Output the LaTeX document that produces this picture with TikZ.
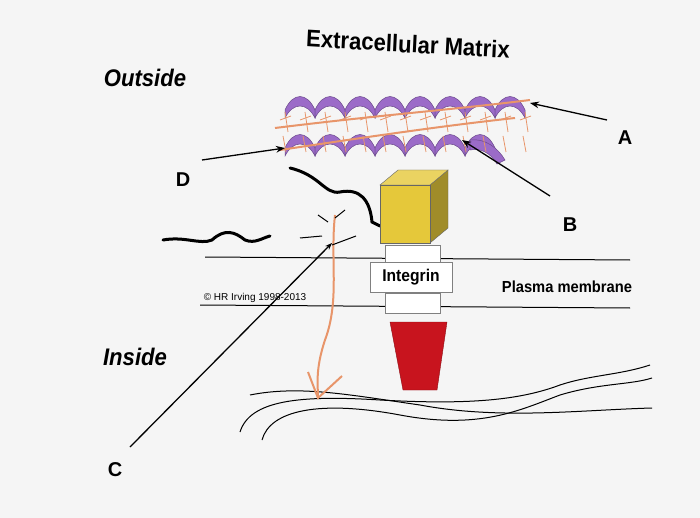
\documentclass[tikz,border=0pt]{standalone}
\usepackage{fontspec}
\setmainfont{Liberation Sans}
\usetikzlibrary{arrows.meta}
\definecolor{purp}{HTML}{9B6BC8}
\definecolor{fib}{HTML}{E8956A}
\definecolor{cubey}{HTML}{E5C83A}
\definecolor{redb}{HTML}{C8141E}
\tikzset{
 lbl/.style={font=\bfseries\fontsize{20}{22}\selectfont},
 ptr/.style={black,line width=1.3pt,-{Stealth[length=9pt]}},
 line/.style={black,line width=1pt},
 scallop/.style={fill=purp,draw=purp!70!black,line width=0.5pt}
}
\begin{document}
\begin{tikzpicture}[x=1pt,y=-1pt]
\useasboundingbox (0,0) rectangle (700,518);
\fill[gray!8] (0,0) rectangle (700,518);
% titles
\node[font=\bfseries\fontsize{24}{26}\selectfont,xscale=0.92,rotate=-3] (title) at (408,44) {Extracellular Matrix};
\node[font=\bfseries\itshape\fontsize{24}{26}\selectfont,xscale=0.92] (out) at (145,78) {Outside};
\node[font=\bfseries\itshape\fontsize{24}{26}\selectfont,xscale=0.92] (in) at (135,357) {Inside};
% purple scallops
\foreach \x in {285,315,...,495}{
 \fill[scallop] (\x,110) .. controls (\x+8,92) and (\x+22,92) .. (\x+30,110) -- (\x+30,118) .. controls (\x+22,102) and (\x+8,102) .. (\x,118) -- cycle;}
\foreach \x in {285,315,...,465}{
 \fill[scallop] (\x,148) .. controls (\x+8,130) and (\x+22,130) .. (\x+30,148) -- (\x+30,156) .. controls (\x+22,140) and (\x+8,140) .. (\x,156) -- cycle;}
\fill[scallop] (470,140) .. controls (485,138) and (498,148) .. (505,160) -- (497,164) .. controls (490,152) and (480,148) .. (470,150) -- cycle;
% fibres
\draw[fib,line width=2pt] (275,128) .. controls (380,115) and (450,110) .. (530,100);
\draw[fib,line width=2pt] (280,150) .. controls (380,135) and (450,125) .. (515,118);
\foreach \x in {285,305,...,525}{
 \draw[fib,line width=0.8pt] (\x,112) -- (\x+3,132);
 \draw[fib,line width=0.8pt] (\x-2,136) -- (\x+1,152);
 \draw[fib,line width=0.8pt] (\x-5,120) -- (\x+6,116);}
% arrows A B D
\coordinate (Aend) at (530,103);
\node[lbl] (A) at (625,138) {A};
\draw[ptr] (607,120) -- (Aend);
\coordinate (Bend) at (462,140);
\node[lbl] (B) at (570,225) {B};
\draw[ptr] (550,196) -- (Bend);
\coordinate (Dend) at (285,148);
\node[lbl] (D) at (183,180) {D};
\draw[ptr] (202,160) -- (Dend);
% black squiggles
\draw[black,line width=3pt,line cap=round] (290,168) .. controls (320,175) and (325,195) .. (340,192) .. controls (360,188) and (370,200) .. (372,222) -- (380,226);
\draw[black,line width=3pt,line cap=round] (163,240) .. controls (185,236) and (200,245) .. (212,240) .. controls (225,228) and (235,232) .. (245,240) .. controls (255,244) and (262,238) .. (270,236);
% cube
\filldraw[fill=cubey!70!black,draw=black!60] (430,243) -- (448,228) -- (448,170) -- (430,185) -- cycle;
\filldraw[fill=cubey!80!white,draw=black!60] (380,185) -- (398,170) -- (448,170) -- (430,185) -- cycle;
\filldraw[fill=cubey,draw=black!60] (380,185) rectangle (430,243) node[midway] (cube) {};
% membrane
\draw[line] (205,257) -- (630,260);
\draw[line] (200,305) -- (630,308);
\node[font=\fontsize{10}{11}\selectfont] (copy) at (255,298) {© HR Irving 1998-2013};
\node[font=\bfseries\fontsize{16}{18}\selectfont,xscale=0.92] (pm) at (567,287) {Plasma membrane};
% integrin
\filldraw[fill=white,draw=gray] (385,245) rectangle (440,262);
\filldraw[fill=white,draw=gray] (385,293) rectangle (440,313);
\node[draw=gray,fill=white,minimum width=82pt,minimum height=30pt,inner sep=0pt,font=\bfseries\fontsize{17}{19}\selectfont] (integ) at (411,277) {\scalebox{0.92}[1]{Integrin}};
% red
\filldraw[fill=redb,draw=redb!70!black] (390,322) -- (447,322) -- (437,390) -- (403,390) -- cycle;
% bottom lines
\draw[line] (240,432) .. controls (250,400) and (300,395) .. (380,400) .. controls (470,405) and (520,400) .. (560,385) .. controls (590,375) and (620,375) .. (650,365);
\draw[line] (262,440) .. controls (270,410) and (320,400) .. (400,415) .. controls (480,430) and (520,410) .. (560,395) .. controls (600,383) and (630,385) .. (652,378);
\draw[line] (250,395) .. controls (300,385) and (350,395) .. (420,405) .. controls (500,420) and (580,410) .. (652,408);
% orange filament
\draw[fib,line width=2pt] (335,215) .. controls (330,260) and (340,300) .. (325,340) .. controls (315,370) and (318,385) .. (318,398);
\draw[fib,line width=2pt] (308,372) -- (318,398) -- (342,376);
% ticks
\draw[line] (318,215) -- (328,222); \draw[line] (335,218) -- (345,210);
\draw[line] (300,238) -- (322,236); \draw[line] (332,245) -- (356,236);
% C
\node[lbl] (C) at (115,470) {C};
\coordinate (Cend) at (332,243);
\draw[black,line width=1.3pt,-{Stealth[length=7pt]}] (130,447) -- (Cend);
\end{tikzpicture}
\end{document}
